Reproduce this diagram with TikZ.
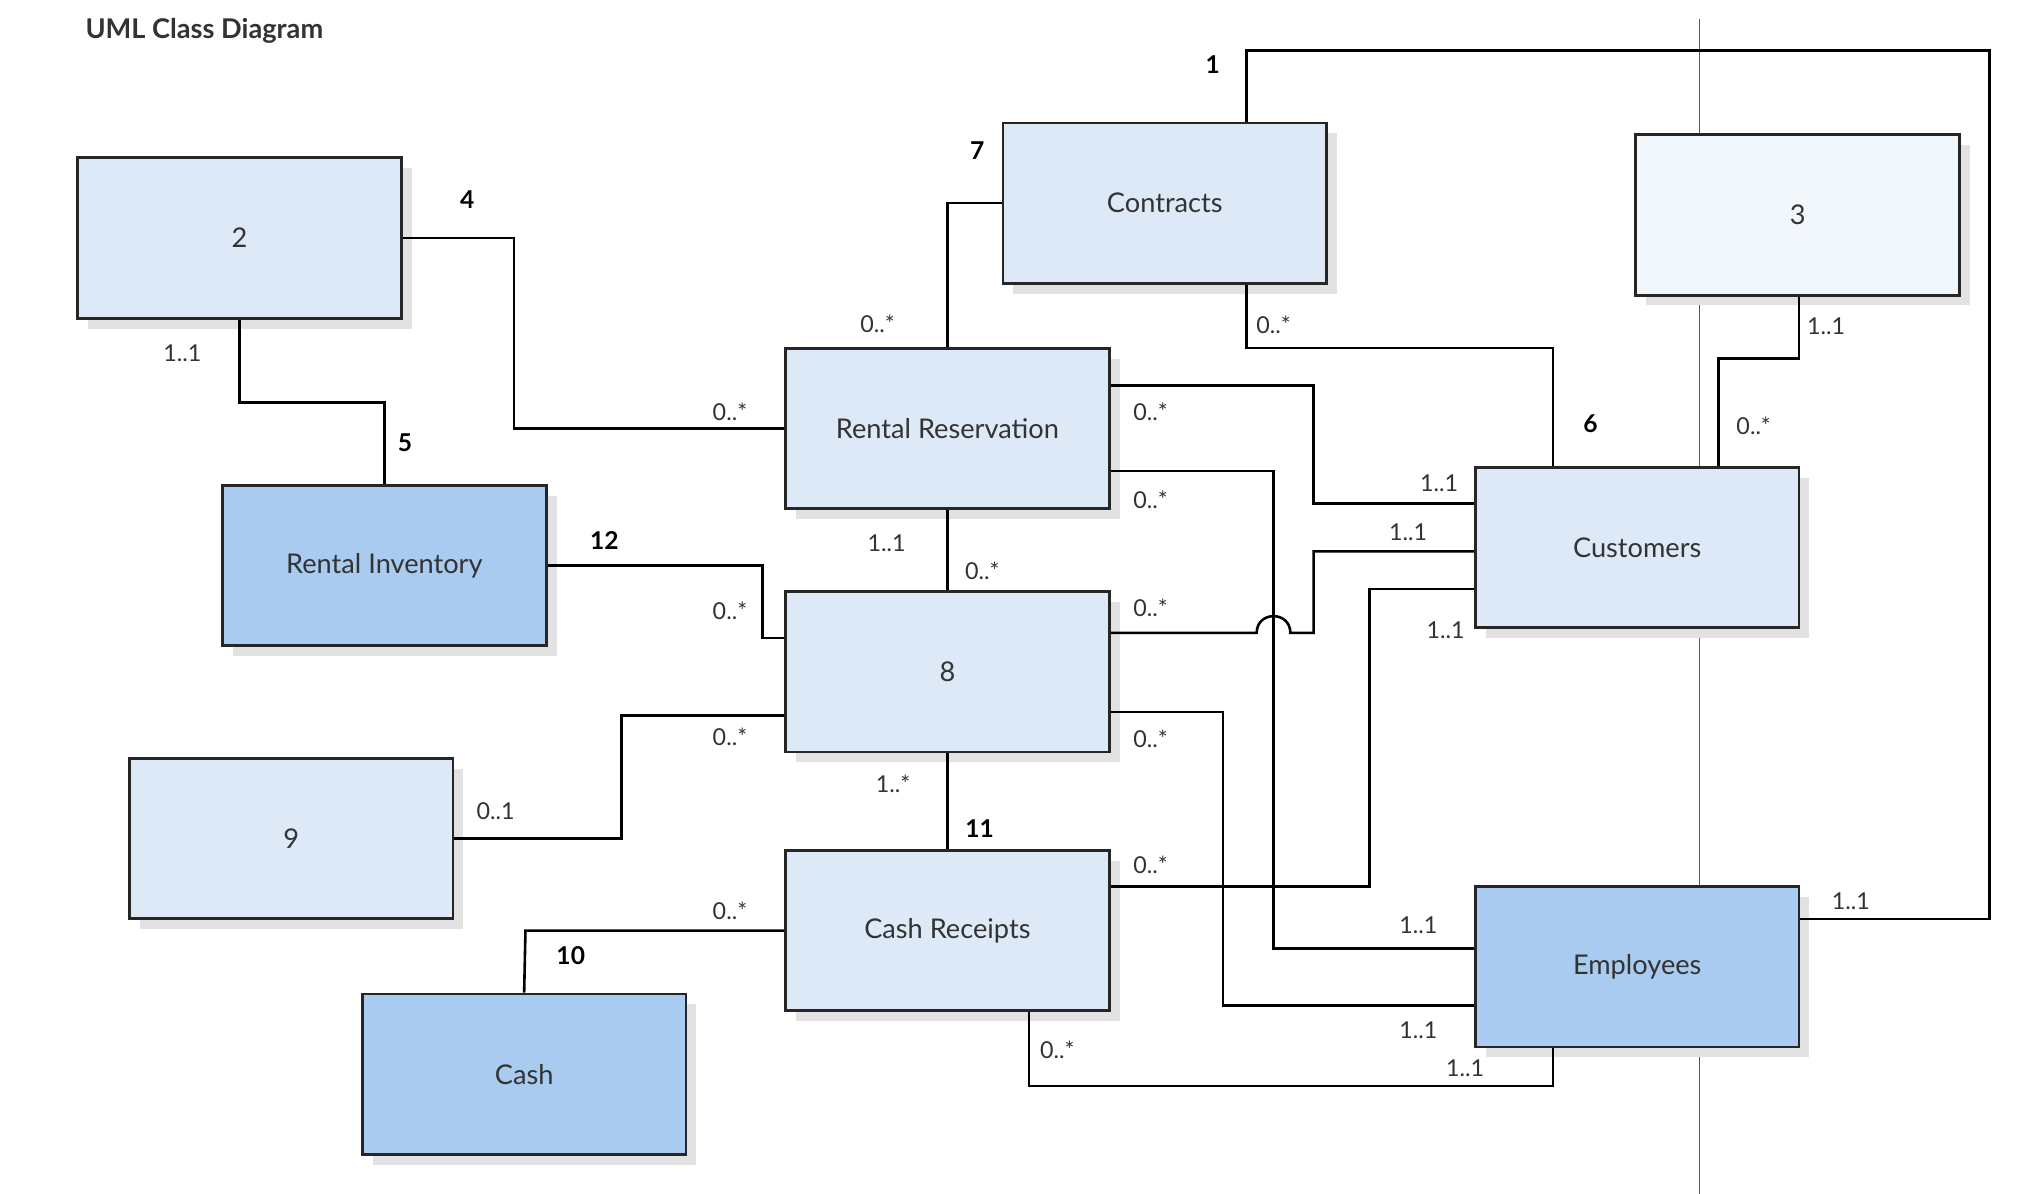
\documentclass[tikz,border=0pt]{standalone}
\usepackage{fontspec}
\setmainfont{Lato}
\begin{document}
\begin{tikzpicture}[x=0.5pt,y=-0.5pt,
  box/.style={draw=black!85,line width=1.1pt,minimum width=125pt,minimum height=62pt,inner sep=0pt,font=\fontsize{10.5}{12}\selectfont,text=black!80},
  lt/.style={box,fill=lightb},
  dk/.style={box,fill=darkb},
  wt/.style={box,fill=paleb},
  con/.style={draw=black,line width=1pt},
  ml/.style={font=\fontsize{9}{10}\selectfont,text=black!80},
  bl/.style={font=\bfseries\fontsize{9.5}{10}\selectfont}]
\definecolor{lightb}{HTML}{DDE9F7}
\definecolor{darkb}{HTML}{A8CBEF}
\definecolor{paleb}{HTML}{F2F7FC}
\definecolor{shad}{HTML}{E2E2E2}
\definecolor{vline}{HTML}{3A5A9A}
\useasboundingbox[fill=white] (0,0) rectangle (1560,922);
\draw[vline,line width=0.4pt] (1313,15) -- (1313,925);
\node[anchor=west,font=\bfseries\fontsize{10.5}{12}\selectfont,text=black!80] (title) at (59,24) {UML Class Diagram};
% shadows
\foreach \x/\y in {185/184,900/157,1389/166,732/331,297/437,1265/423,732/519,225/648,732/719,1265/747,405/830}
  \fill[shad] (\x-125+8,\y-62+8) rectangle (\x+125+8,\y+62+8);
\node[lt] (b2) at (185,184) {2};
\node[lt] (co) at (900,157) {Contracts};
\node[wt] (b3) at (1389,166) {3};
\node[lt] (rr) at (732,331) {Rental Reservation};
\node[dk] (ri) at (297,437) {Rental Inventory};
\node[lt] (cu) at (1265,423) {Customers};
\node[lt] (b8) at (732,519) {8};
\node[lt] (b9) at (225,648) {9};
\node[lt] (cr) at (732,719) {Cash Receipts};
\node[dk] (em) at (1265,747) {Employees};
\node[dk] (ca) at (405,830) {Cash};
% connectors
\draw[con] (co.north -| 963,0) -- (963,39) -- (1537,39) -- (1537,710) -- (em.east |- 0,710);
\draw[con] (co.west) -- (732,157) -- (rr.north);
\draw[con] (b2.east) -- (397,184) -- (397,331) -- (rr.west);
\draw[con] (b2.south) -- (185,311) -- (297,311) -- (ri.north);
\draw[con] (co.south -| 963,0) -- (963,269) -- (1200,269) -- (cu.north -| 1200,0);
\draw[con] (b3.south -| 1390,0) -- (1390,277) -- (1328,277) -- (cu.north -| 1328,0);
\draw[con] (rr.east |- 0,298) -- (1015,298) -- (1015,389) -- (cu.west |- 0,389);
\draw[con] (rr.east |- 0,364) -- (984,364) -- (984,733) -- (em.west |- 0,733);
\draw[con] (rr.south) -- (b8.north);
\draw[con] (ri.east) -- (589,437) -- (589,493) -- (b8.west |- 0,493);
\draw[con] (b8.east |- 0,489) -- (971,489) to[out=90,in=90,looseness=1.7] (997,489) -- (1015,489) -- (1015,426) -- (cu.west |- 0,426);
\draw[con] (b8.west |- 0,553) -- (480,553) -- (480,648) -- (b9.east);
\draw[con] (b8.east |- 0,550) -- (945,550) -- (945,777) -- (em.west |- 0,777);
\draw[con] (b8.south) -- (cr.north);
\draw[con] (cr.east |- 0,685) -- (1058,685) -- (1058,455) -- (cu.west |- 0,455);
\draw[con] (cr.west) -- (406,719) -- (ca.north);
\draw[con] (cr.south -| 795,0) -- (795,839) -- (1200,839) -- (em.south -| 1200,0);
% labels
\node[bl] (l1) at (937,50) {1};
\node[ml] (m1) at (1430,696) {1..1};
\node[bl] (l7) at (755,116) {7};
\node[ml] (m2) at (678,250) {0..*};
\node[bl] (l4) at (361,154) {4};
\node[ml] (m3) at (564,318) {0..*};
\node[ml] (m4) at (141,273) {1..1};
\node[bl] (l5) at (313,342) {5};
\node[ml] (m5) at (984,251) {0..*};
\node[bl] (l6) at (1229,327) {6};
\node[ml] (m6) at (1411,252) {1..1};
\node[ml] (m7) at (1355,329) {0..*};
\node[ml] (m8) at (889,318) {0..*};
\node[ml] (m9) at (1112,373) {1..1};
\node[ml] (m10) at (889,386) {0..*};
\node[ml] (m11) at (1096,715) {1..1};
\node[ml] (m12) at (685,420) {1..1};
\node[ml] (m13) at (759,441) {0..*};
\node[bl] (l12) at (467,418) {12};
\node[ml] (m14) at (564,472) {0..*};
\node[ml] (m15) at (889,470) {0..*};
\node[ml] (m16) at (1088,411) {1..1};
\node[ml] (m17) at (564,569) {0..*};
\node[ml] (m18) at (383,627) {0..1};
\node[ml] (m19) at (889,571) {0..*};
\node[ml] (m20) at (1096,796) {1..1};
\node[ml] (m21) at (690,606) {1..*};
\node[bl] (l11) at (757,640) {11};
\node[ml] (m22) at (889,668) {0..*};
\node[ml] (m23) at (1117,487) {1..1};
\node[ml] (m24) at (564,704) {0..*};
\node[bl] (l10) at (441,738) {10};
\node[ml] (m25) at (817,811) {0..*};
\node[ml] (m26) at (1132,825) {1..1};
\end{tikzpicture}
\end{document}
